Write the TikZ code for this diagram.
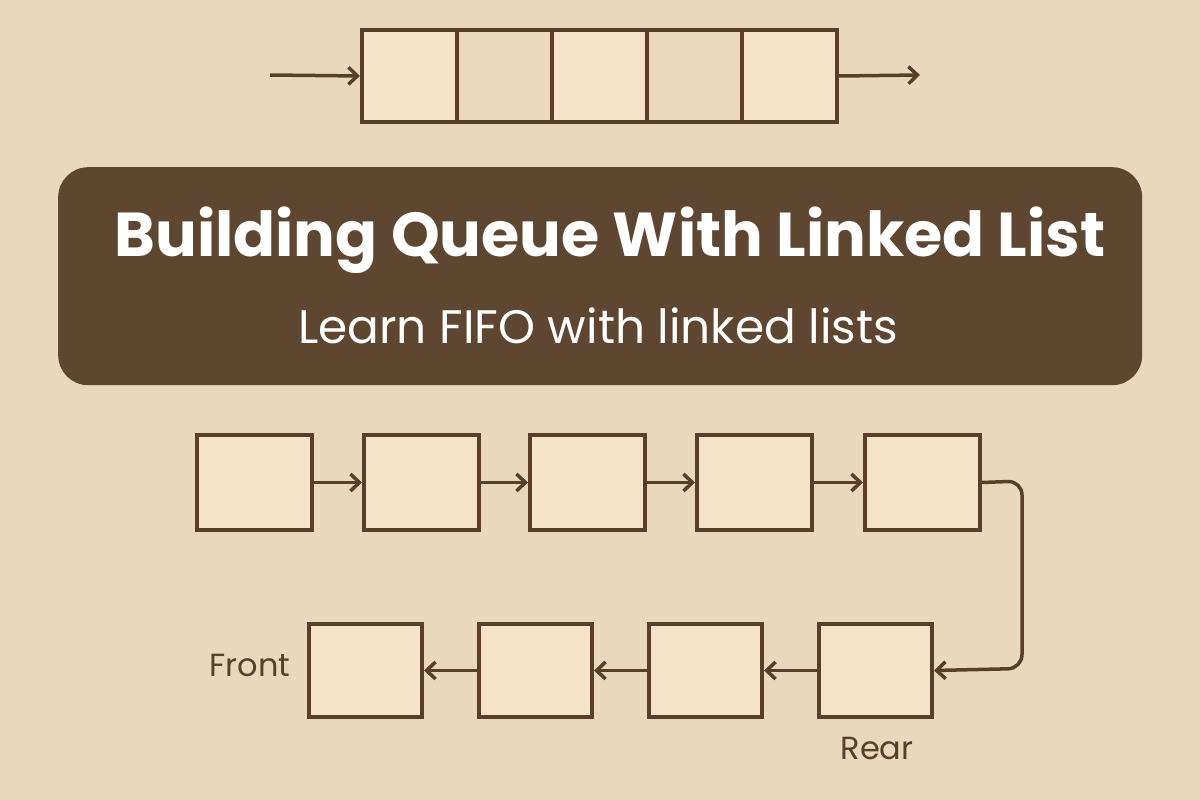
\documentclass[tikz,border=0pt]{standalone}
\usepackage{fontspec}
\setmainfont{Poppins}
\usetikzlibrary{arrows.meta}
\definecolor{bg}{HTML}{EAD8BD}
\definecolor{ln}{HTML}{5A3E2B}
\definecolor{lite}{HTML}{F5E3CC}
\definecolor{dark}{HTML}{ECD8BD}
\definecolor{ban}{HTML}{5F4630}
\begin{document}
\begin{tikzpicture}[x=1pt,y=-1pt,
  cell/.style={draw=ln,line width=4pt,minimum width=95pt,minimum height=92pt,inner sep=0pt,anchor=north west},
  nbox/.style={draw=ln,line width=4pt,fill=lite,minimum width=115pt,minimum height=95pt,inner sep=0pt,anchor=north west},
  link/.style={draw=ln,line width=3.5pt,-{Straight Barb[length=9pt,width=17pt,line width=3.5pt]}}]
\fill[bg] (0,0) rectangle (1200,800);
\useasboundingbox (0,0) rectangle (1200,800);
% top array
\node[cell,fill=lite] (c1) at (360,28) {};
\node[cell,fill=dark] (c2) at (455,28) {};
\node[cell,fill=lite] (c3) at (550,28) {};
\node[cell,fill=dark] (c4) at (645,28) {};
\node[cell,fill=lite] (c5) at (740,28) {};
\coordinate (in) at (270,75);
\coordinate (out) at (920,75);
\draw[link] (in) -- (c1.west);
\draw[link] (c5.east) -- (out);
% banner
\node[fill=ban,rounded corners=30pt,minimum width=1084pt,minimum height=218pt,anchor=north west] (ban) at (58,167) {};
\node[text=white,font=\fontsize{62}{66}\selectfont\bfseries] (title) at (610,240) {Building Queue With Linked List};
\node[text=white,font=\fontsize{47}{50}\selectfont] (sub) at (598,326) {Learn FIFO with linked lists};
% row 1
\node[nbox] (a1) at (195,433) {};
\node[nbox] (a2) at (362,433) {};
\node[nbox] (a3) at (528,433) {};
\node[nbox] (a4) at (695,433) {};
\node[nbox] (a5) at (863,433) {};
\draw[link] (a1.east) -- (a2.west);
\draw[link] (a2.east) -- (a3.west);
\draw[link] (a3.east) -- (a4.west);
\draw[link] (a4.east) -- (a5.west);
% row 2
\node[nbox,minimum width=113pt,minimum height=93pt] (b1) at (307,622) {};
\node[nbox,minimum width=113pt,minimum height=93pt] (b2) at (477,622) {};
\node[nbox,minimum width=113pt,minimum height=93pt] (b3) at (647,622) {};
\node[nbox,minimum width=113pt,minimum height=93pt] (b4) at (817,622) {};
\draw[link] (b2.west) -- (b1.east);
\draw[link] (b3.west) -- (b2.east);
\draw[link] (b4.west) -- (b3.east);
\draw[link,rounded corners=14pt] (a5.east) -- (1022,481) -- (1022,668.5) -- (b4.east);
\node[text=ln,font=\fontsize{32}{36}\selectfont] (front) at (250,665) {Front};
\node[text=ln,font=\fontsize{32}{36}\selectfont] (rear) at (877,748) {Rear};
\end{tikzpicture}
\end{document}
